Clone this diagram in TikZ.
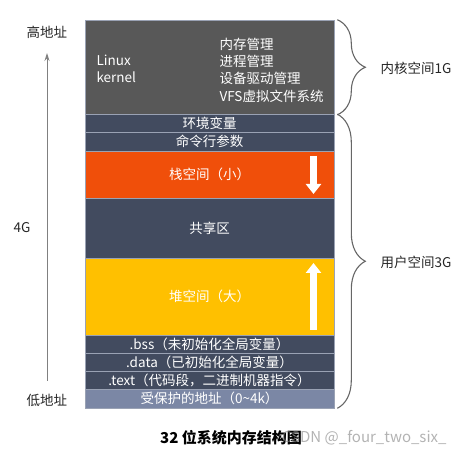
\documentclass[tikz,border=0pt]{standalone}
\usepackage{fontspec}
\setmainfont{Noto Sans CJK SC}
\usetikzlibrary{arrows.meta,decorations.pathreplacing}
\definecolor{kernelgray}{HTML}{585858}
\definecolor{slate}{HTML}{424B5F}
\definecolor{stackred}{HTML}{F04F0A}
\definecolor{heapyellow}{HTML}{FFC000}
\definecolor{protblue}{HTML}{7B87A5}
\definecolor{sepline}{HTML}{9AA2B4}
\tikzset{
  seg/.style={rectangle,draw=sepline,line width=0.6pt,minimum width=249pt,inner sep=0pt,text=white,font=\fontsize{13.5}{15}\selectfont},
  lbl/.style={font=\fontsize{13.5}{15}\selectfont,text=black!85},
  growarrow/.style={line width=7pt,white,-{Triangle[width=15pt,length=10pt]}},
  bracket/.style={decorate,decoration={brace,amplitude=28pt},draw=gray!80!black,line width=1.1pt},
}
\begin{document}
\begin{tikzpicture}[x=1pt,y=-1pt]
\useasboundingbox (0,0) rectangle (464,462);

\node[seg,fill=kernelgray,minimum height=94.5pt] (kernel) at (209.5,67.25) {};
\node[seg,fill=slate,minimum height=18pt] (env) at (209.5,123.5) {环境变量};
\node[seg,fill=slate,minimum height=18.5pt] (args) at (209.5,141.75) {命令行参数};
\node[seg,fill=stackred,minimum height=47pt] (stack) at (209.5,174.5) {栈空间（小）};
\node[seg,fill=slate,minimum height=60pt] (shared) at (209.5,228) {共享区};
\node[seg,fill=heapyellow,minimum height=77.5pt] (heap) at (209.5,296.75) {堆空间（大）};
\node[seg,fill=slate,minimum height=18pt] (bss) at (209.5,344.5) {.bss（未初始化全局变量）};
\node[seg,fill=slate,minimum height=18pt] (data) at (209.5,362.5) {.data（已初始化全局变量）};
\node[seg,fill=slate,minimum height=18pt] (text) at (209.5,380.5) {.text（代码段，二进制机器指令）};
\node[seg,fill=protblue,minimum height=18.5pt] (prot) at (209.5,398.75) {受保护的地址（0\textasciitilde 4k）};

\node[anchor=west,align=left,text=white,font=\fontsize{13.5}{17}\selectfont] (linux) at (93,68.5) {Linux\\kernel};
\node[anchor=west,align=left,text=white,font=\fontsize{13.5}{17.4}\selectfont] (tasks) at (216,70) {内存管理\\进程管理\\设备驱动管理\\VFS虚拟文件系统};

\coordinate (stacktop) at (313.5,156);
\coordinate (stackend) at (313.5,194);
\coordinate (heapbot) at (313.5,330);
\coordinate (heaptop) at (313.5,263);
\draw[growarrow] (stacktop) -- (stackend);
\draw[growarrow] (heapbot) -- (heaptop);

\node[lbl] (high) at (47,32) {高地址};
\node[lbl] (low) at (47,400) {低地址};
\node[lbl] (size) at (22,228) {4G};
\coordinate (arrowlow) at (47,381);
\coordinate (arrowhigh) at (47,53);
\draw[draw=gray,line width=0.9pt,-{Stealth[length=8pt,width=5pt]}] (arrowlow) -- (arrowhigh);

\draw[bracket] ([xshift=3pt]kernel.north east) -- ([xshift=3pt]kernel.south east);
\draw[bracket] ([xshift=3pt]env.north east) -- ([xshift=3pt]prot.south east);
\node[lbl] (kspace) at (416,68) {内核空间1G};
\node[lbl] (uspace) at (416,262) {用户空间3G};

\node[font=\fontsize{15}{17}\selectfont\bfseries] (title) at (231,438) {32 位系统内存结构图};
\node[anchor=east,text=gray,opacity=0.6,font=\fontsize{15}{17}\selectfont] (mark) at (450,438) {CSDN @\_four\_two\_six\_};
\end{tikzpicture}
\end{document}
